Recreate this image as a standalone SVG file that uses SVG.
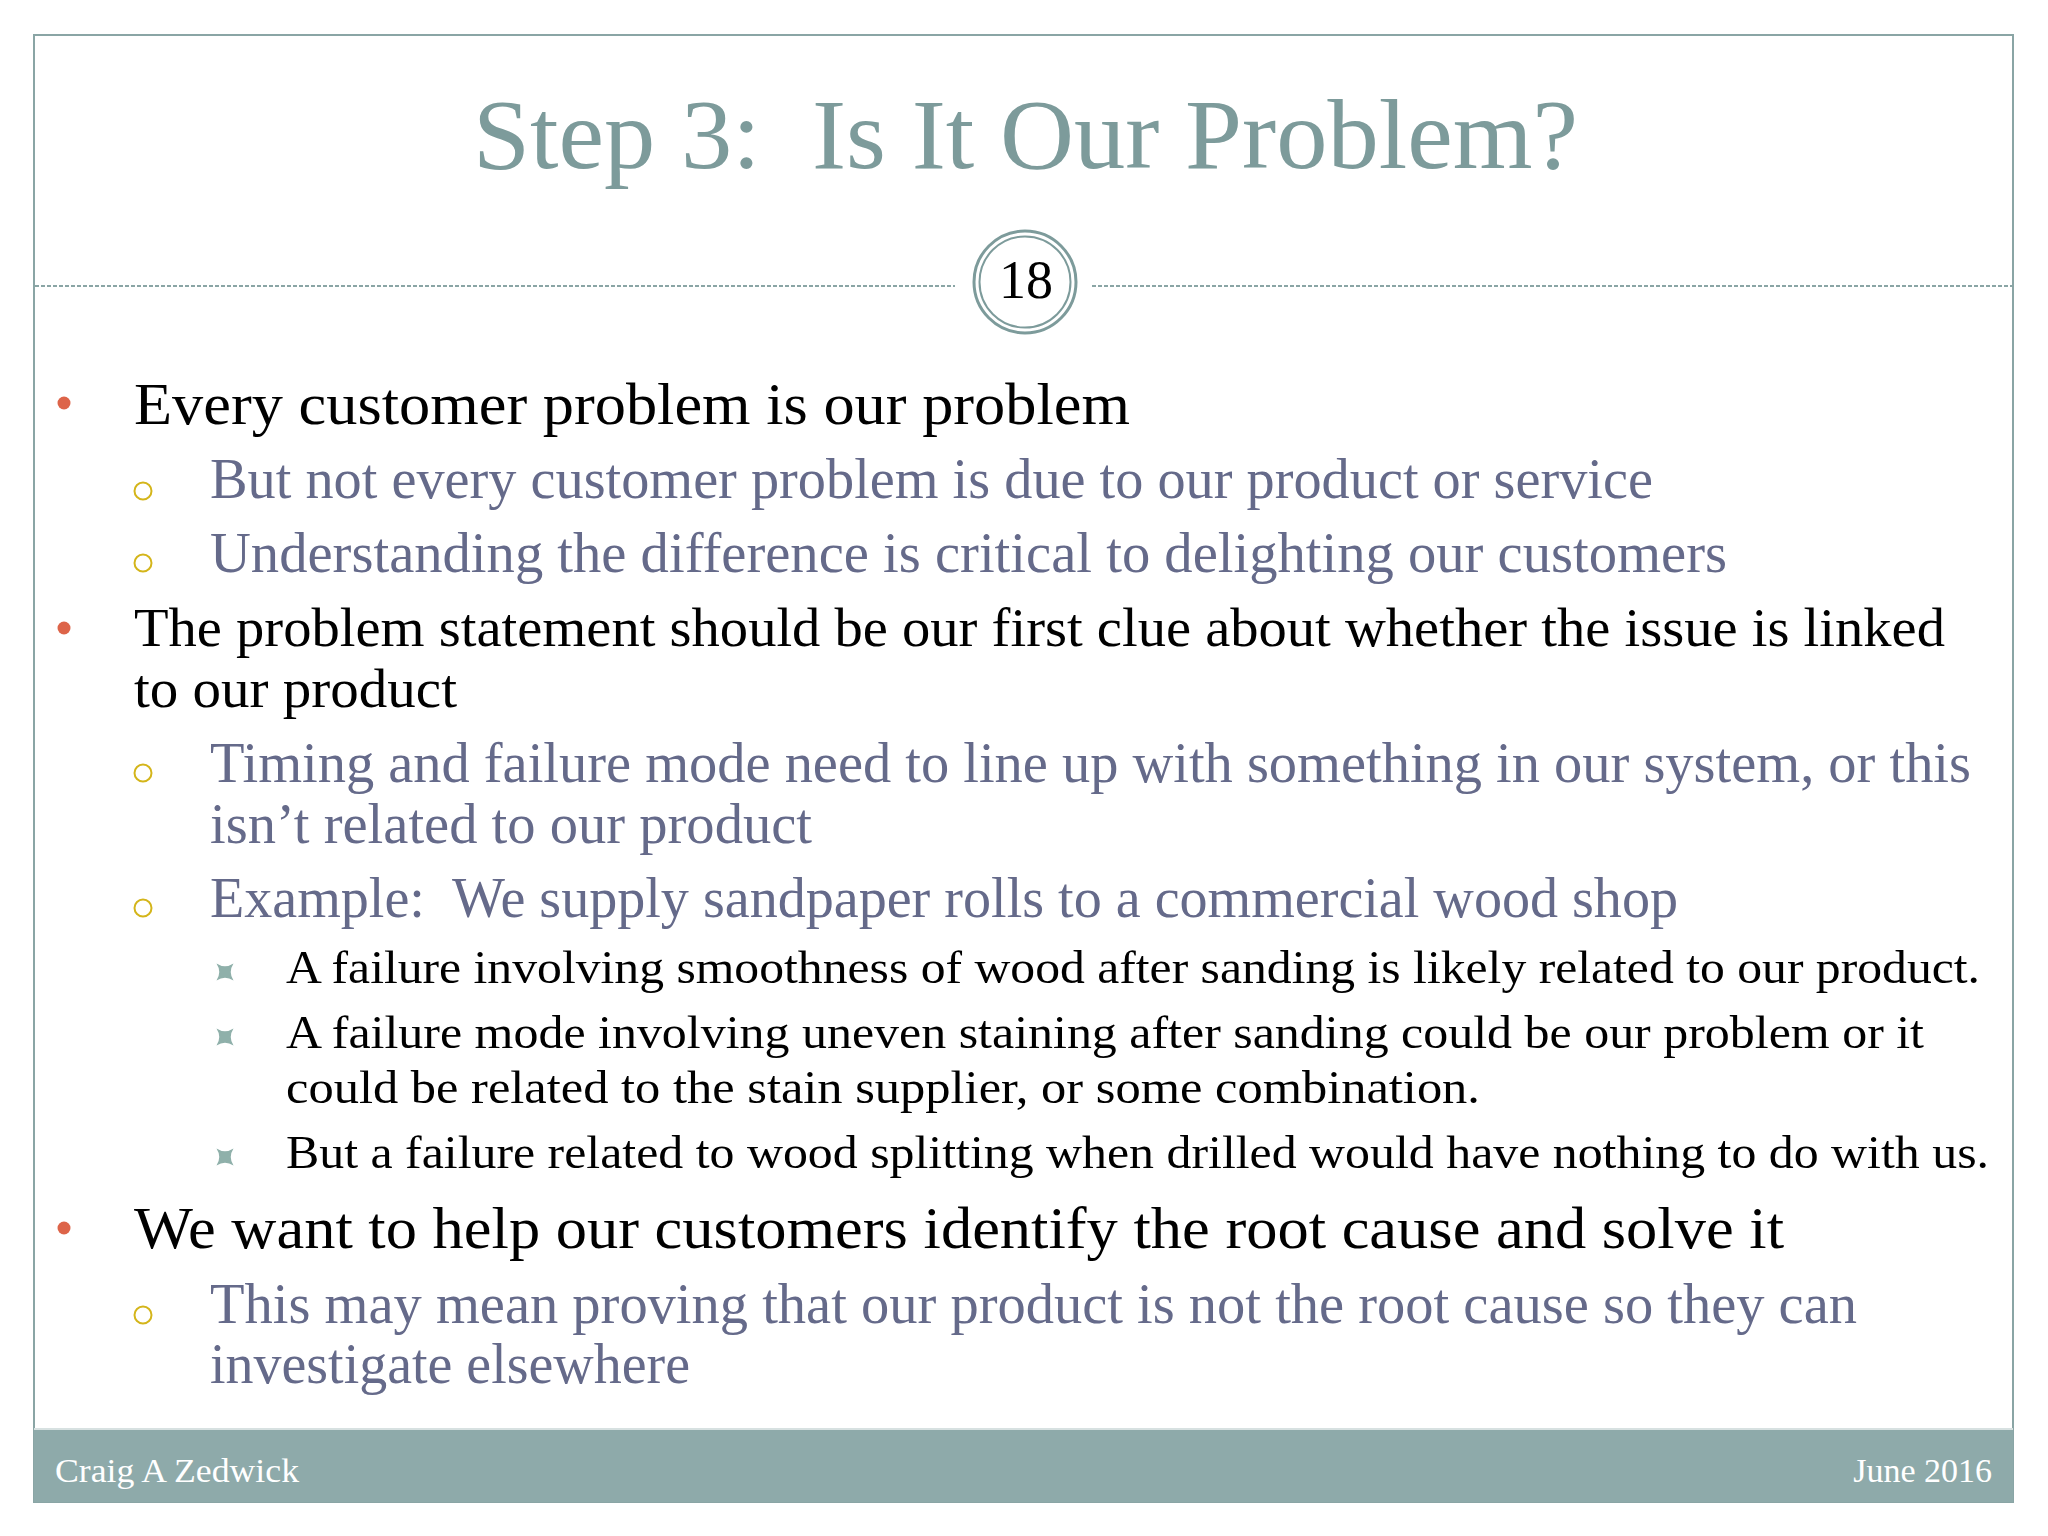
<svg xmlns="http://www.w3.org/2000/svg" xmlns:xlink="http://www.w3.org/1999/xlink" width="2048" height="1536" viewBox="0 0 2048 1536">
<style>
  text { font-family: "Liberation Serif", "DejaVu Serif", serif; }
  .pre { white-space: pre; }
  .title { fill: #7D9B9B; font-size: 100px; }
  .l1 { fill: #000000; font-size: 60px; }
  .l1b { fill: #000000; font-size: 54px; }
  .l2 { fill: #656A8A; font-size: 56px; }
  .l3 { fill: #000000; font-size: 47px; }
  .foot { fill: #FFFFFF; font-size: 34px; }
  .dot { fill: #DD6449; }
  .ring { fill: none; stroke: #D4B51A; stroke-width: 2; }
  .star { fill: #8FB0AA; }
  .rule { stroke: #8AA5A5; stroke-width: 1.8; stroke-dasharray: 4 2; }
</style>
<defs>
  <path id="star" d="M-8.5,-8.5 Q0,-3 8.5,-8.5 Q3,0 8.5,8.5 Q0,3 -8.5,8.5 Q-3,0 -8.5,-8.5 Z"/>
</defs>
<rect x="0" y="0" width="2048" height="1536" fill="#FFFFFF"/>
<g id="frame">
  <rect x="34" y="35" width="1979" height="1467" fill="#FFFFFF" stroke="#8AA5A5" stroke-width="2"/>
  <rect x="34" y="1430" width="1979" height="72" fill="#8EAAAA"/>
  <line x1="34" y1="1429" x2="2013" y2="1429" stroke="#D7E1E1" stroke-width="2"/>
</g>
<g id="title">
  <text class="title pre" xml:space="preserve" x="473" y="168" textLength="1105" lengthAdjust="spacingAndGlyphs">Step 3:  Is It Our Problem?</text>
</g>
<g id="rules">
  <line class="rule" x1="35" y1="286" x2="955" y2="286"/>
  <line class="rule" x1="1092" y1="286" x2="2012" y2="286"/>
</g>
<g id="page-number">
  <circle cx="1025" cy="282" r="51" fill="#FFFFFF" stroke="#7D9B9B" stroke-width="3"/>
  <circle cx="1025" cy="282" r="45.5" fill="none" stroke="#7D9B9B" stroke-width="2"/>
  <text x="1026" y="298" text-anchor="middle" font-size="54" fill="#000000">18</text>
</g>
<g id="bullets">
  <circle class="dot" cx="64" cy="403" r="6.5"/>
  <circle class="dot" cx="64" cy="628" r="6.5"/>
  <circle class="dot" cx="64" cy="1228" r="6.5"/>
  <circle class="ring" cx="143" cy="491" r="8.5"/>
  <circle class="ring" cx="143" cy="563" r="8.5"/>
  <circle class="ring" cx="143" cy="773" r="8.5"/>
  <circle class="ring" cx="143" cy="908" r="8.5"/>
  <circle class="ring" cx="143" cy="1315" r="8.5"/>
  <use xlink:href="#star" href="#star" class="star" x="225" y="972"/>
  <use xlink:href="#star" href="#star" class="star" x="225" y="1037"/>
  <use xlink:href="#star" href="#star" class="star" x="225" y="1157"/>
</g>
<g id="body">
  <text class="l1" x="134" y="424" textLength="996" lengthAdjust="spacingAndGlyphs">Every customer problem is our problem</text>
  <text class="l2" x="210" y="498" textLength="1443" lengthAdjust="spacingAndGlyphs">But not every customer problem is due to our product or service</text>
  <text class="l2" x="210" y="572" textLength="1517" lengthAdjust="spacingAndGlyphs">Understanding the difference is critical to delighting our customers</text>
  <text class="l1b" x="134" y="646" textLength="1811" lengthAdjust="spacingAndGlyphs">The problem statement should be our first clue about whether the issue is linked</text>
  <text class="l1b" x="134" y="707" textLength="323" lengthAdjust="spacingAndGlyphs">to our product</text>
  <text class="l2" x="210" y="782" textLength="1761" lengthAdjust="spacingAndGlyphs">Timing and failure mode need to line up with something in our system, or this</text>
  <text class="l2" x="210" y="843" textLength="602" lengthAdjust="spacingAndGlyphs">isn’t related to our product</text>
  <text class="l2 pre" xml:space="preserve" x="210" y="917" textLength="1468" lengthAdjust="spacingAndGlyphs">Example:  We supply sandpaper rolls to a commercial wood shop</text>
  <text class="l3" x="286" y="983" textLength="1694" lengthAdjust="spacingAndGlyphs">A failure involving smoothness of wood after sanding is likely related to our product.</text>
  <text class="l3" x="286" y="1048" textLength="1638" lengthAdjust="spacingAndGlyphs">A failure mode involving uneven staining after sanding could be our problem or it</text>
  <text class="l3" x="286" y="1103" textLength="1194" lengthAdjust="spacingAndGlyphs">could be related to the stain supplier, or some combination.</text>
  <text class="l3" x="286" y="1168" textLength="1703" lengthAdjust="spacingAndGlyphs">But a failure related to wood splitting when drilled would have nothing to do with us.</text>
  <text class="l1" x="134" y="1248" textLength="1650" lengthAdjust="spacingAndGlyphs">We want to help our customers identify the root cause and solve it</text>
  <text class="l2" x="210" y="1323" textLength="1647" lengthAdjust="spacingAndGlyphs">This may mean proving that our product is not the root cause so they can</text>
  <text class="l2" x="210" y="1383" textLength="480" lengthAdjust="spacingAndGlyphs">investigate elsewhere</text>
</g>
<g id="footer">
  <text class="foot" x="55" y="1482" textLength="244" lengthAdjust="spacingAndGlyphs">Craig A Zedwick</text>
  <text class="foot" x="1992" y="1482" text-anchor="end">June 2016</text>
</g>
</svg>
